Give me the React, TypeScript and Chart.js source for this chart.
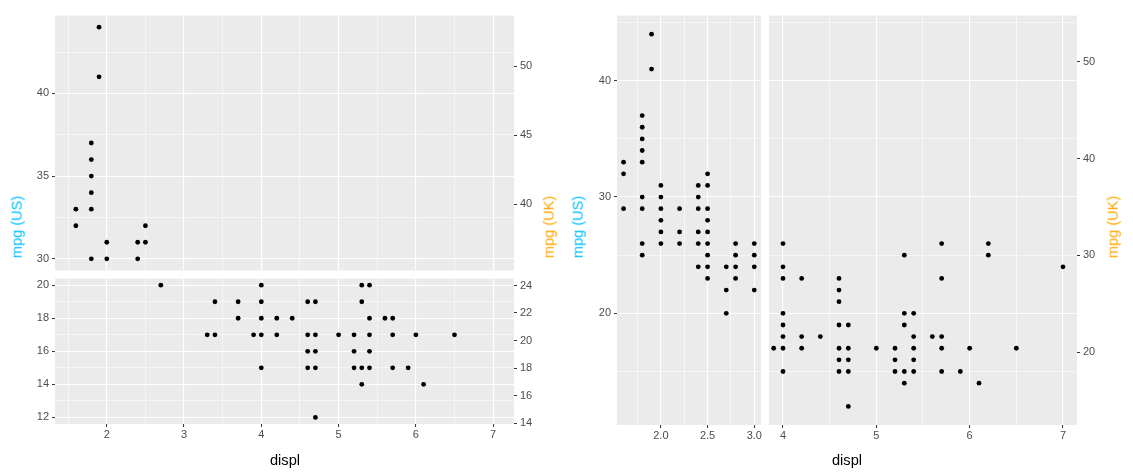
import { useEffect, useRef } from 'react'
import { Chart, registerables } from 'chart.js'

Chart.register(...registerables)

// mpg: engine displacement vs highway mpg
const displ = [
  1.6, 1.6, 1.6,
  1.8, 1.8, 1.8, 1.8, 1.8, 1.8, 1.8, 1.8, 1.8,
  1.9, 1.9,
  2.0, 2.0, 2.0, 2.0, 2.0, 2.0,
  2.2, 2.2, 2.2,
  2.4, 2.4, 2.4, 2.4, 2.4, 2.4,
  2.5, 2.5, 2.5, 2.5, 2.5, 2.5, 2.5, 2.5, 2.5,
  2.7, 2.7, 2.7,
  2.8, 2.8, 2.8, 2.8,
  3.0, 3.0, 3.0, 3.0,
  3.3,
  3.4, 3.4,
  3.7, 3.7,
  3.9,
  4.0, 4.0, 4.0, 4.0, 4.0, 4.0, 4.0, 4.0,
  4.2, 4.2, 4.2,
  4.4,
  4.6, 4.6, 4.6, 4.6, 4.6, 4.6, 4.6,
  4.7, 4.7, 4.7, 4.7, 4.7,
  5.0,
  5.2, 5.2, 5.2,
  5.3, 5.3, 5.3, 5.3, 5.3,
  5.4, 5.4, 5.4, 5.4, 5.4,
  5.6,
  5.7, 5.7, 5.7, 5.7, 5.7,
  5.9,
  6.0,
  6.1,
  6.2, 6.2,
  6.5,
  7.0,
]
const hwy = [
  33, 32, 29,
  37, 36, 35, 34, 33, 30, 29, 26, 25,
  44, 41,
  31, 30, 29, 28, 27, 26,
  29, 27, 26,
  31, 30, 29, 27, 26, 24,
  32, 31, 29, 28, 27, 26, 25, 24, 23,
  24, 22, 20,
  26, 25, 24, 23,
  26, 25, 24, 22,
  17,
  19, 17,
  19, 18,
  17,
  26, 24, 23, 20, 19, 18, 17, 15,
  23, 18, 17,
  18,
  23, 22, 21, 19, 17, 16, 15,
  19, 17, 16, 15, 12,
  17,
  17, 16, 15,
  25, 20, 19, 15, 14,
  20, 18, 17, 16, 15,
  18,
  26, 23, 18, 17, 15,
  15,
  17,
  14,
  26, 25,
  17,
  24,
]

const UK = 1.20095

// left plot: y axis broken between 20 and 30
const leftX = [1.33, 7.27]
const leftXMajor = [2, 3, 4, 5, 6, 7]
const leftXMinor = [1.5, 2.5, 3.5, 4.5, 5.5, 6.5]
const topY = [29.3, 44.7]
const topYMajor = [30, 35, 40]
const topYMinor = [32.5, 37.5, 42.5]
const topUK = [40, 45, 50]
const botY = [11.6, 20.4]
const botYMajor = [12, 14, 16, 18, 20]
const botYMinor = [13, 15, 17, 19]
const botUK = [14, 16, 18, 20, 22, 24]

// right plot: x axis broken between 3 and 4
const rightY = [10.4, 45.6]
const rightYMajor = [20, 30, 40]
const rightYMinor = [15, 25, 35, 45]
const rightUK = [20, 30, 40, 50]
const lowX = [1.53, 3.072]
const lowXMajor = [2, 2.5, 3]
const lowXMinor = [1.75, 2.25, 2.75]
const highX = [3.85, 7.15]
const highXMajor = [4, 5, 6, 7]
const highXMinor = [4.5, 5.5, 6.5]

const FONT = '"Liberation Sans", Arial, sans-serif'
const PAD = 8
const tickFont = { family: FONT, size: 11 }

function gridAxis(
  position: 'left' | 'bottom',
  range: number[],
  major: number[],
  minor: number[],
  labels: boolean,
  size: number,
  fmt: (v: number) => string,
) {
  const horizontal = position === 'bottom'
  return {
    type: 'linear',
    position,
    min: range[0],
    max: range[1],
    afterBuildTicks: (s: any) => {
      s.ticks = [...major, ...minor].sort((a, b) => a - b).map((v) => ({ value: v }))
    },
    afterFit: (s: any) => {
      if (horizontal) s.height = size
      else s.width = size
    },
    ticks: {
      display: labels,
      autoSkip: false,
      maxRotation: 0,
      padding: horizontal ? 1.5 : 3,
      color: '#4D4D4D',
      font: tickFont,
      callback: (v: number) => (major.includes(v) ? fmt(v) : ''),
    },
    grid: {
      color: '#FFFFFF',
      lineWidth: (c: any) => (major.includes(c.tick?.value) ? 1.1 : 0.55),
      drawTicks: labels,
      tickLength: 3,
      tickWidth: 1,
      tickColor: (c: any) => (major.includes(c.tick?.value) ? '#333333' : 'rgba(0,0,0,0)'),
    },
    border: { display: false },
  }
}

function ukAxis(range: number[], ticks: number[], size: number) {
  return {
    type: 'linear',
    position: 'right',
    display: size > 0,
    min: range[0] * UK,
    max: range[1] * UK,
    afterBuildTicks: (s: any) => {
      s.ticks = ticks.map((v) => ({ value: v }))
    },
    afterFit: (s: any) => {
      s.width = size
    },
    ticks: {
      autoSkip: false,
      padding: 3,
      color: '#4D4D4D',
      font: tickFont,
      callback: (v: number) => String(v),
    },
    grid: { drawOnChartArea: false, tickLength: 3, tickWidth: 1, tickColor: '#333333' },
    border: { display: false },
  }
}

const panelBg = {
  id: 'panelBg',
  beforeDraw(chart: Chart) {
    const { ctx, chartArea: a } = chart
    ctx.save()
    ctx.fillStyle = '#EBEBEB'
    ctx.fillRect(a.left, a.top, a.right - a.left, a.bottom - a.top)
    ctx.restore()
  },
}

interface PanelProps {
  left: number
  top: number
  width: number
  height: number
  axisL: number
  axisR: number
  axisB: number
  xr: number[]
  yr: number[]
  xMajor: number[]
  xMinor: number[]
  yMajor: number[]
  yMinor: number[]
  uk: number[]
  xDigits: number
}

function Panel(p: PanelProps) {
  const canvasRef = useRef<HTMLCanvasElement>(null)
  const W = p.axisL + p.width + p.axisR + 2 * PAD
  const H = p.height + p.axisB + 2 * PAD

  useEffect(() => {
    if (!canvasRef.current) return
    const pts = displ
      .map((d, i) => ({ x: d, y: hwy[i] }))
      .filter((pt) => pt.x >= p.xr[0] && pt.x <= p.xr[1] && pt.y >= p.yr[0] && pt.y <= p.yr[1])

    const chart = new Chart(canvasRef.current, {
      type: 'scatter',
      data: {
        datasets: [
          {
            data: pts,
            backgroundColor: '#000000',
            borderWidth: 0,
            pointRadius: 2.4,
            pointHoverRadius: 2.4,
          },
        ],
      },
      options: {
        responsive: false,
        animation: false,
        events: [],
        layout: { padding: PAD },
        plugins: { legend: { display: false }, tooltip: { enabled: false } },
        scales: {
          x: gridAxis('bottom', p.xr, p.xMajor, p.xMinor, p.axisB > 0, p.axisB, (v) =>
            v.toFixed(p.xDigits),
          ),
          y: gridAxis('left', p.yr, p.yMajor, p.yMinor, p.axisL > 0, p.axisL, (v) => String(v)),
          y2: ukAxis(p.yr, p.uk, p.axisR),
        },
      } as any,
      plugins: [panelBg],
    })
    return () => chart.destroy()
  }, [])

  return (
    <canvas
      ref={canvasRef}
      width={W}
      height={H}
      style={{ position: 'absolute', left: p.left - p.axisL - PAD, top: p.top - PAD, width: W, height: H }}
    />
  )
}

function Title({ text, x, y, color, rotate }: { text: string; x: number; y: number; color: string; rotate?: boolean }) {
  return (
    <div
      style={{
        position: 'absolute',
        left: x,
        top: y,
        transform: `translate(-50%, -50%)${rotate ? ' rotate(-90deg)' : ''}`,
        whiteSpace: 'nowrap',
        fontFamily: FONT,
        fontSize: 14.6,
        lineHeight: 1,
        color,
      }}
    >
      {text}
    </div>
  )
}

export default function App() {
  return (
    <div
      style={{
        position: 'fixed',
        left: 0,
        top: 0,
        width: 1133,
        height: 475,
        background: '#FFFFFF',
        overflow: 'hidden',
      }}
    >
      {/* left plot, broken y axis */}
      <Panel
        left={55} top={14} width={459} height={258}
        axisL={47} axisR={30} axisB={0}
        xr={leftX} yr={topY}
        xMajor={leftXMajor} xMinor={leftXMinor}
        yMajor={topYMajor} yMinor={topYMinor}
        uk={topUK} xDigits={0}
      />
      <Panel
        left={55} top={277} width={459} height={147}
        axisL={47} axisR={30} axisB={30}
        xr={leftX} yr={botY}
        xMajor={leftXMajor} xMinor={leftXMinor}
        yMajor={botYMajor} yMinor={botYMinor}
        uk={botUK} xDigits={0}
      />
      <Title text="mpg (US)" x={17} y={227} color="#00BFFF" rotate />
      <Title text="mpg (UK)" x={549} y={227} color="#FFA500" rotate />
      <Title text="displ" x={285} y={460} color="#000000" />

      {/* right plot, broken x axis */}
      <Panel
        left={617} top={14} width={144} height={411}
        axisL={30} axisR={0} axisB={30}
        xr={lowX} yr={rightY}
        xMajor={lowXMajor} xMinor={lowXMinor}
        yMajor={rightYMajor} yMinor={rightYMinor}
        uk={rightUK} xDigits={1}
      />
      <Panel
        left={769} top={14} width={308} height={411}
        axisL={0} axisR={30} axisB={30}
        xr={highX} yr={rightY}
        xMajor={highXMajor} xMinor={highXMinor}
        yMajor={rightYMajor} yMinor={rightYMinor}
        uk={rightUK} xDigits={0}
      />
      <Title text="mpg (US)" x={578} y={227} color="#00BFFF" rotate />
      <Title text="mpg (UK)" x={1113} y={227} color="#FFA500" rotate />
      <Title text="displ" x={847} y={460} color="#000000" />
    </div>
  )
}
